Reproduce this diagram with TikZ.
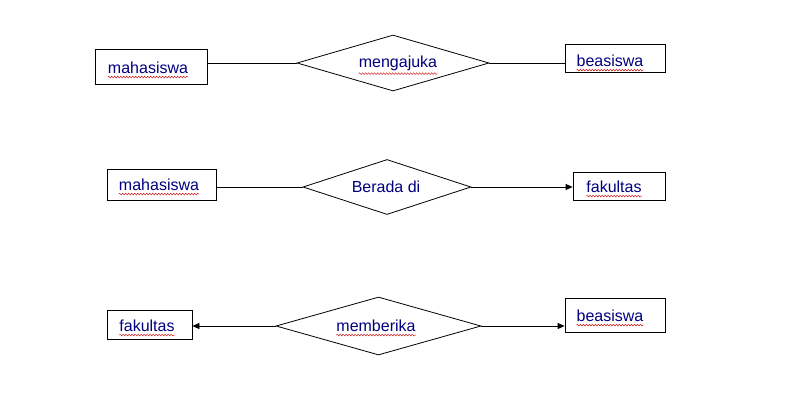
\documentclass[tikz,border=0pt]{standalone}
\usepackage{fontspec}
\setmainfont{Liberation Sans}
\usetikzlibrary{shapes.geometric,decorations.pathmorphing,arrows.meta}
\begin{document}
\begin{tikzpicture}[x=1pt,y=-1pt,
  ent/.style={draw,thick,minimum height=#1,inner sep=0pt},
  rel/.style={draw,diamond,thick,inner sep=0pt},
  lbl/.style={text=blue!50!black,font=\fontsize{16}{18}\selectfont,inner sep=0pt},
  conn/.style={thick},
  arr/.style={thick,-{Triangle[length=7pt,width=6pt]}},
  wavy/.style={red!80!black,decorate,decoration={snake,amplitude=0.9pt,segment length=3pt}}]
\useasboundingbox (0,0) rectangle (787,405);
\fill[white] (0,0) rectangle (787,405);
% row 1
\node[ent=35pt,minimum width=112pt] (m1) at (151,66.5) {};
\node[rel,minimum width=192pt,minimum height=56pt] (r1) at (393,63) {};
\node[ent=28pt,minimum width=100pt] (b1) at (615,58) {};
\node[lbl] (tm1) at (148,68) {mahasiswa};
\node[lbl] (tr1) at (398,63) {mengajuka};
\node[lbl] (tb1) at (610,61) {beasiswa};
\draw[conn] (m1.east |- r1.west) -- (r1.west);
\draw[conn] (r1.east) -- (b1.west |- r1.east);
% row 2
\node[ent=31pt,minimum width=109pt] (m2) at (161.5,184.5) {};
\node[rel,minimum width=168pt,minimum height=55pt] (r2) at (387,187) {};
\node[ent=28pt,minimum width=92pt] (f2) at (619,186) {};
\node[lbl] (tm2) at (159,185) {mahasiswa};
\node[lbl] (tr2) at (386,187) {Berada di};
\node[lbl] (tf2) at (614,187) {fakultas};
\draw[conn] (m2.east |- r2.west) -- (r2.west);
\draw[arr] (r2.east) -- (f2.west |- r2.east);
% row 3
\node[ent=29pt,minimum width=85pt] (f3) at (149.5,324.5) {};
\node[rel,minimum width=205pt,minimum height=58pt] (r3) at (378.5,326) {};
\node[ent=34pt,minimum width=100pt] (b3) at (615,315) {};
\node[lbl] (tf3) at (147,326) {fakultas};
\node[lbl] (tr3) at (376,326) {memberika};
\node[lbl] (tb3) at (610,316) {beasiswa};
\draw[arr] (r3.west) -- (f3.east |- r3.west);
\draw[arr] (r3.east) -- (b3.west |- r3.east);
% spelling underlines
\foreach \t in {tm1,tr1,tb1,tm2,tf2,tf3,tr3,tb3}{
  \draw[wavy] ([yshift=-3pt]\t.south west) -- ([yshift=-3pt]\t.south east);
}
\end{tikzpicture}
\end{document}
